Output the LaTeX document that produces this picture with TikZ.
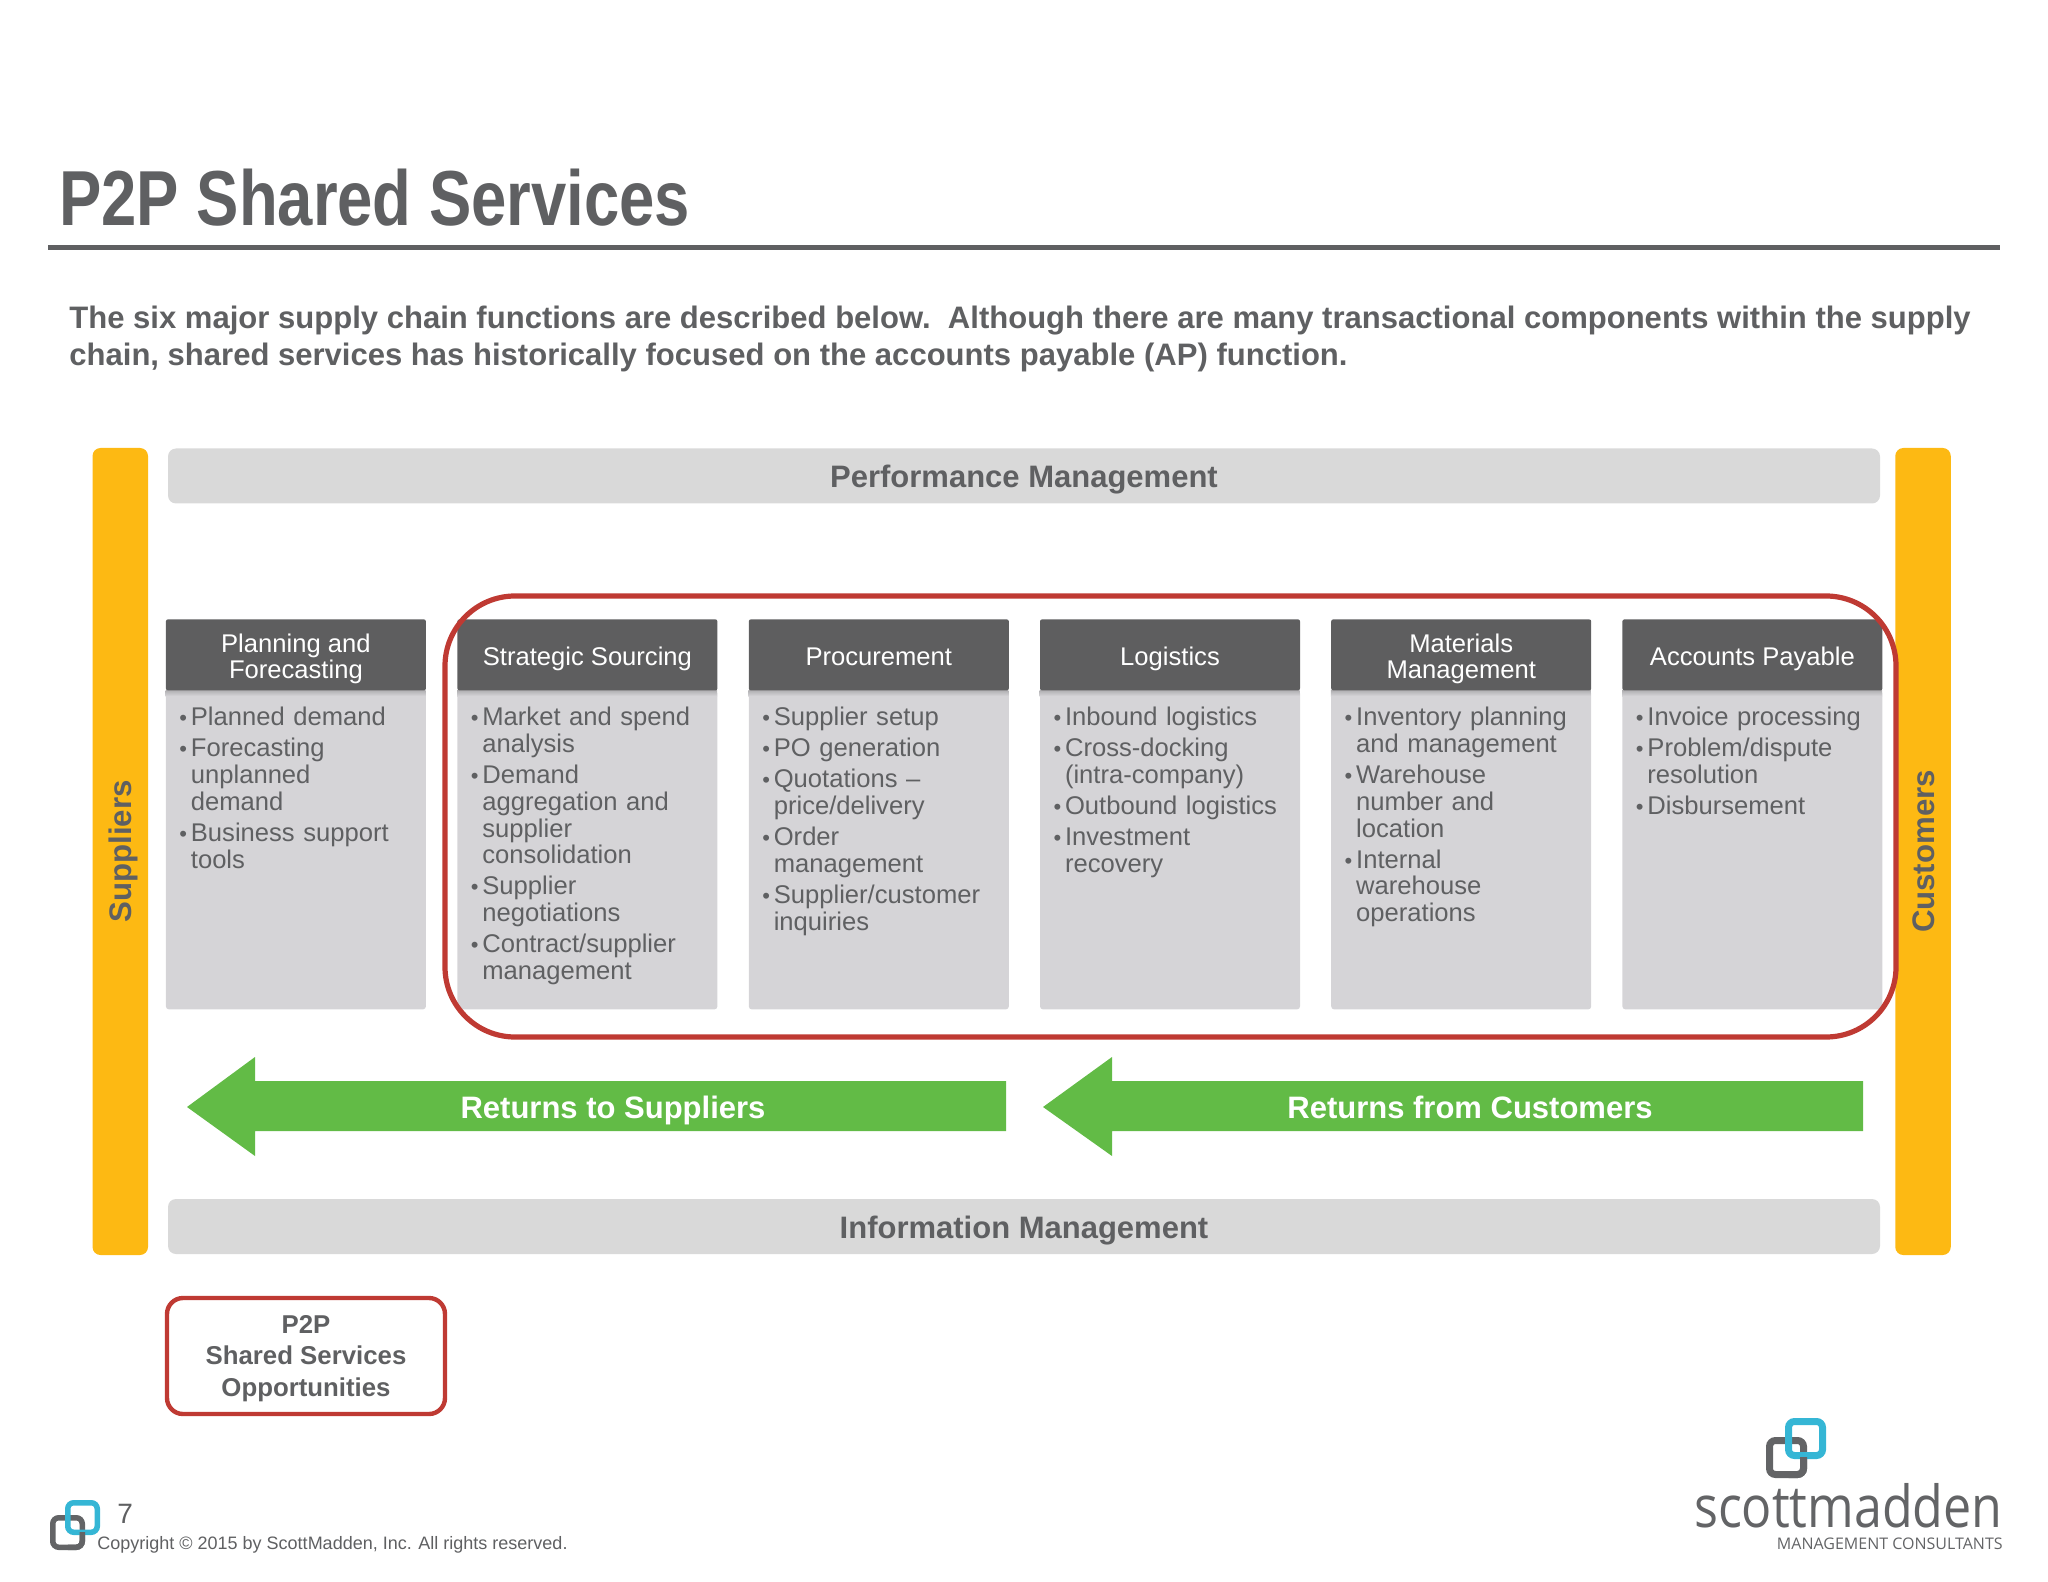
\documentclass[tikz,border=0pt]{standalone}
\usepackage{xcolor}
\usepackage{fontspec}
\setmainfont{Liberation Sans}
\newfontfamily\logofont{Open Sans}
\usepackage{tikz}
\definecolor{ink}{HTML}{5F6062}
\definecolor{head}{HTML}{5E5E5F}
\definecolor{bar}{HTML}{D9D9D9}
\definecolor{panel}{HTML}{D5D4D7}
\definecolor{gold}{HTML}{FDB913}
\definecolor{redline}{HTML}{BF3A33}
\definecolor{leaf}{HTML}{62BB46}
\definecolor{teal}{HTML}{35B6D5}
\definecolor{logogray}{HTML}{636466}
\tikzset{
  greybar/.style={fill=bar, rounded corners=4pt, minimum width=856pt, minimum height=27.5pt, inner sep=0pt,
    text height=15pt, text depth=3pt, text=ink, font=\fontsize{15.5}{18}\selectfont\bfseries},
  sidebar/.style={fill=gold, rounded corners=4pt, rotate=90, minimum width=403.5pt, minimum height=27.75pt, inner sep=0pt,
    text height=14.6pt, text depth=3pt, text=ink, font=\fontsize{15.6}{18}\selectfont\bfseries},
  headbox/.style={fill=head, rounded corners=1pt, anchor=north west, minimum width=130pt, minimum height=35.5pt, inner sep=0pt},
  headlab/.style={align=center, inner sep=0pt, yshift=-2pt, text=white, font=\fontsize{12.8}{13.4}\selectfont},
  bodybox/.style={fill=panel, rounded corners=1.5pt, anchor=north west, minimum width=130pt, minimum height=159.5pt, inner sep=0pt},
  items/.style={anchor=north west, inner sep=0pt, yshift=-3.8pt, text width=125pt, align=left, text=ink,
    font=\fontsize{12.8}{13.4}\selectfont},
  redbox/.style={draw=redline, line width=2.6pt},
  retarrow/.style={fill=leaf},
  retlab/.style={anchor=base, text=white, font=\fontsize{15.5}{18}\selectfont\bfseries, inner sep=0pt},
  legendlab/.style={align=center, inner sep=0pt, yshift=-1.3pt, text=ink, font=\fontsize{12.9}{15.6}\selectfont\bfseries},
}
\newcommand{\itm}[1]{\par\hangindent=12.5pt\hangafter=1\noindent\hbox to 12.5pt{\hss{\fontsize{11}{11}\selectfont\textbullet}\hspace{1.9pt}}#1\par\vspace{2.1pt}}
\begin{document}
\begin{tikzpicture}[x=0.5pt,y=-0.5pt]
  \useasboundingbox (0,0) rectangle (2048,1582);

  % title and intro
  \node[anchor=base west, inner sep=0pt, xscale=0.813, text=ink, font=\fontsize{39}{39}\selectfont\bfseries] (title) at (59,226) {P2P Shared Services};
  \draw[draw=ink, line width=2.5pt] (48,248) -- (2000,248);
  \node[anchor=base west, inner sep=0pt, text=ink, font=\fontsize{15.52}{18.75}\selectfont\bfseries] (introa) at (69,329) {The six major supply chain functions are described below.\ \ Although there are many transactional components within the supply};
  \node[anchor=base west, inner sep=0pt, text=ink, font=\fontsize{15.52}{18.75}\selectfont\bfseries] (introb) at (69,366) {chain, shared services has historically focused on the accounts payable (AP) function.};

  % frame
  \node[sidebar] (suppliers) at (120.25,851.5) {Suppliers};
  \node[sidebar] (customers) at (1923,851.5) {Customers};
  \node[greybar] (perf) at (1024,476) {Performance Management};
  \node[greybar] (info) at (1024,1226.5) {Information Management};

  % functions
  \foreach \x/\nm/\ttl in {165.5/plan/{Planning and\\Forecasting},457/sourcing/Strategic Sourcing,748.4/proc/Procurement\vphantom{g},1039.6/logi/Logistics,1330.8/mat/{Materials\\Management},1622/ap/Accounts Payable}{
    \node[bodybox] (\nm body) at (\x,690) {};
    \shade[top color=panel!82!black, bottom color=panel] (\x,690) rectangle (\x+260,696);
    \node[headbox, label={[headlab]center:{\ttl}}] (\nm) at (\x,619) {};
  }
  \node[items] (planitems) at (plan.south west) {\itm{Planned demand}\itm{Forecasting\newline unplanned\newline demand}\itm{Business support\newline tools}};
  \node[items] (sourcingitems) at (sourcing.south west) {\itm{Market and spend\newline analysis}\itm{Demand\newline aggregation and\newline supplier\newline consolidation}\itm{Supplier\newline negotiations}\itm{Contract/supplier\newline management}};
  \node[items] (procitems) at (proc.south west) {\itm{Supplier setup}\itm{PO generation}\itm{Quotations --\newline price/delivery}\itm{Order\newline management}\itm{Supplier/customer\newline inquiries}};
  \node[items] (logiitems) at (logi.south west) {\itm{Inbound logistics}\itm{Cross-docking\newline (intra-company)}\itm{Outbound logistics}\itm{Investment\newline recovery}};
  \node[items] (matitems) at (mat.south west) {\itm{Inventory planning\newline and management}\itm{Warehouse\newline number and\newline location}\itm{Internal\newline warehouse\newline operations}};
  \node[items] (apitems) at (ap.south west) {\itm{Invoice processing}\itm{Problem/dispute\newline resolution}\itm{Disbursement}};

  % shared services outline
  \draw[redbox, rounded corners=35pt] (445,596) rectangle (1896,1037);

  % returns
  \fill[retarrow] (187,1107) -- (255,1057) -- (255,1081) -- (1006,1081) -- (1006,1131) -- (255,1131) -- (255,1156) -- cycle;
  \fill[retarrow] (1043,1107) -- (1112,1057) -- (1112,1081) -- (1863,1081) -- (1863,1131) -- (1112,1131) -- (1112,1156) -- cycle;
  \node[retlab] (retsup) at (613,1118) {Returns to Suppliers};
  \node[retlab] (retcus) at (1470,1118) {Returns from Customers};

  % legend
  \node[draw=redline, line width=2.2pt, rounded corners=8pt, minimum width=139pt, minimum height=58pt, inner sep=0pt,
    label={[legendlab]center:{P2P\\Shared Services\\Opportunities}}] (legend) at (306,1356) {};

  % logos
  \foreach \gx/\gy/\bx/\by/\sz/\lw in {1766/1437/1785/1418/41/7,50/1515/65/1500/35/5.5}{
    \pgfmathsetmacro{\hw}{\lw/2}
    \draw[logogray, line width=\lw*0.5pt, rounded corners=3pt] (\gx+\hw,\gy+\hw) rectangle (\gx+\sz-\hw,\gy+\sz-\hw);
    \draw[teal, line width=\lw*0.5pt, rounded corners=3pt] (\bx+\hw,\by+\hw) rectangle (\bx+\sz-\hw,\by+\sz-\hw);
    \begin{scope}
      \clip (\bx+\hw,\gy+\sz/2) rectangle (\gx+\sz,\gy+\sz);
      \draw[logogray, line width=\lw*0.5pt, rounded corners=3pt] (\gx+\hw,\gy+\hw) rectangle (\gx+\sz-\hw,\gy+\sz-\hw);
    \end{scope}
  }
  \node[anchor=base east, inner sep=0pt, xscale=0.865, text=logogray, font=\logofont\fontsize{29}{29}\selectfont] (brand) at (2003,1527) {scottmadden};
  \node[anchor=base east, inner sep=0pt, text=logogray, font=\logofont\fontsize{8}{9}\selectfont] (brandsub) at (2003,1549) {MANAGEMENT CONSULTANTS};

  % footer
  \node[anchor=base west, inner sep=0pt, text=ink, font=\fontsize{14}{14}\selectfont] (pageno) at (117,1523) {7};
  \node[anchor=base west, inner sep=0pt, text=ink, font=\fontsize{9}{10}\selectfont] (copy) at (97,1549) {Copyright \textcopyright\ 2015 by ScottMadden, Inc. All rights reserved.};
\end{tikzpicture}
\end{document}
